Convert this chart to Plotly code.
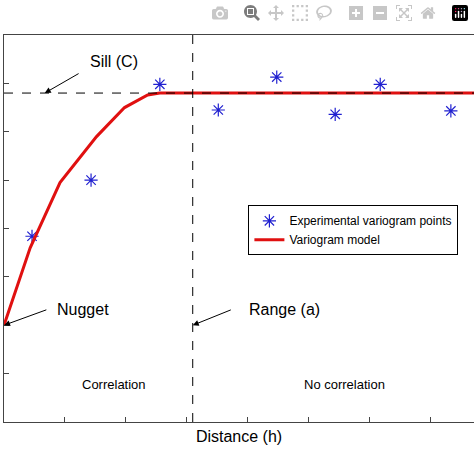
import plotly.graph_objects as go

exp_x = [0.46, 1.43, 2.56, 3.52, 4.48, 5.44, 6.18, 7.34]
exp_y = [3.84, 5.0, 6.98, 6.45, 7.13, 6.36, 6.98, 6.43]
model_x = [0, 0.43, 0.92, 1.52, 1.98, 2.36, 2.56, 7.72]
model_y = [2.0, 3.6, 4.95, 5.9, 6.5, 6.76, 6.8, 6.8]
sill = 6.8
nugget = 2.0
range_a = 3.1

fig = go.Figure()
fig.add_trace(go.Scatter(x=exp_x, y=exp_y, mode="markers", name="Experimental variogram points",
                         marker=dict(symbol="asterisk-open", size=11, color="#2020d0", line=dict(width=1.2, color="#2020d0"))))
fig.add_trace(go.Scatter(x=model_x, y=model_y, mode="lines", name="Variogram model",
                         line=dict(color="#e01010", width=3)))
fig.add_shape(type="line", x0=0, x1=7.72, y0=sill, y1=sill, line=dict(color="black", width=1, dash="dash"))
fig.add_shape(type="line", x0=range_a, x1=range_a, y0=0, y1=8, line=dict(color="black", width=1, dash="dash"))

ann = dict(showarrow=True, arrowhead=2, arrowsize=1.2, arrowwidth=1, arrowcolor="black", axref="x", ayref="y")
fig.add_annotation(x=0.67, y=sill, ax=1.25, ay=7.22, text="", **ann)
fig.add_annotation(x=1.8, y=7.45, text="Sill (C)", showarrow=False, font=dict(size=16))
fig.add_annotation(x=0.0, y=nugget, ax=0.72, ay=2.33, text="", **ann)
fig.add_annotation(x=1.3, y=2.33, text="Nugget", showarrow=False, font=dict(size=16))
fig.add_annotation(x=range_a, y=nugget, ax=3.75, ay=2.33, text="", **ann)
fig.add_annotation(x=4.6, y=2.33, text="Range (a)", showarrow=False, font=dict(size=16))
fig.add_annotation(x=1.8, y=0.78, text="Correlation", showarrow=False, font=dict(size=13))
fig.add_annotation(x=5.6, y=0.78, text="No correlation", showarrow=False, font=dict(size=13))

fig.update_layout(
    width=474, height=474, margin=dict(l=4, r=0, t=35, b=52),
    plot_bgcolor="white", paper_bgcolor="white",
    font=dict(family="Liberation Sans, Arial", color="black"),
    showlegend=True,
    legend=dict(x=0.52, y=0.56, xanchor="left", yanchor="top", bordercolor="black", borderwidth=1,
                bgcolor="white", font=dict(size=12), tracegroupgap=0),
    xaxis=dict(range=[0, 7.72], showline=True, linecolor="#444", mirror=True, ticks="inside", ticklen=5,
               dtick=1, showticklabels=False, showgrid=False, zeroline=False,
               title=dict(text="Distance (h)", font=dict(size=16), standoff=8)),
    yaxis=dict(range=[0, 8], showline=True, linecolor="#444", ticks="inside", ticklen=5,
               dtick=1, showticklabels=False, showgrid=False, zeroline=False),
)
fig.write_html("out.html", post_script="document.body.style.margin='0';document.body.style.overflow='hidden';")
